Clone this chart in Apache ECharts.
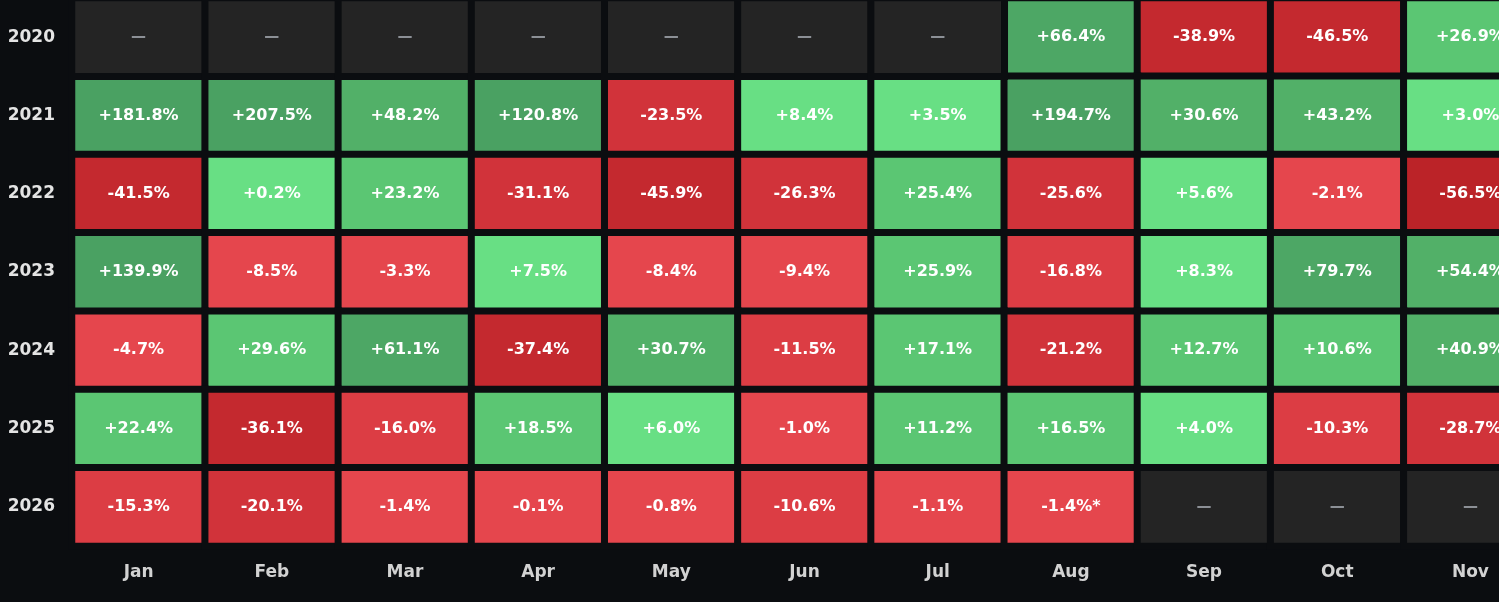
<!DOCTYPE html>
<html>
<head>
<meta charset="utf-8">
<script src="https://cdn.jsdelivr.net/npm/echarts@6/dist/echarts.min.js"></script>
<style>
  html, body { margin: 0; padding: 0; background: #0b0d10; overflow: hidden; }
  body { width: 1499px; height: 602px; position: relative; }
  /* the chart is wider than the window, its right end is cut off */
  #chart { position: absolute; left: 0; top: -2px; width: 1537px; height: 604px; }
</style>
</head>
<body>
<div id="chart"></div>
<script>
// monthly returns, % (null = no data)
const months = ['Jan', 'Feb', 'Mar', 'Apr', 'May', 'Jun', 'Jul', 'Aug', 'Sep', 'Oct', 'Nov'];
const years = ['2020', '2021', '2022', '2023', '2024', '2025', '2026'];

const r2020 = [null, null, null, null, null, null, null, 66.4, -38.9, -46.5, 26.9];
const r2021 = [181.8, 207.5, 48.2, 120.8, -23.5, 8.4, 3.5, 194.7, 30.6, 43.2, 3.0];
const r2022 = [-41.5, 0.2, 23.2, -31.1, -45.9, -26.3, 25.4, -25.6, 5.6, -2.1, -56.5];
const r2023 = [139.9, -8.5, -3.3, 7.5, -8.4, -9.4, 25.9, -16.8, 8.3, 79.7, 54.4];
const r2024 = [-4.7, 29.6, 61.1, -37.4, 30.7, -11.5, 17.1, -21.2, 12.7, 10.6, 40.9];
const r2025 = [22.4, -36.1, -16.0, 18.5, 6.0, -1.0, 11.2, 16.5, 4.0, -10.3, -28.7];
const r2026 = [-15.3, -20.1, -1.4, -0.1, -0.8, -10.6, -1.1, -1.4, null, null, null];

// current month is still running
const partialCell = { year: '2026', month: 'Aug' };

const rows = [r2020, r2021, r2022, r2023, r2024, r2025, r2026];

const values = [];
const empty = [];
rows.forEach(function (row, y) {
    row.forEach(function (v, x) {
        if (v === null) {
            empty.push([x, y, 0]);
        } else {
            values.push([x, y, v]);
        }
    });
});

function fmt (p) {
    const v = p.value[2];
    let s = (v >= 0 ? '+' : '') + v.toFixed(1) + '%';
    if (years[p.value[1]] === partialCell.year && months[p.value[0]] === partialCell.month) {
        s += '*';
    }
    return s;
}

const chart = echarts.init(document.getElementById('chart'));
chart.setOption({
    backgroundColor: '#0b0d10',
    animation: false,
    grid: {
        left: 72,
        right: 0,
        top: 0,
        bottom: 56
    },
    xAxis: {
        type: 'category',
        data: months,
        axisLine: { show: false },
        axisTick: { show: false },
        splitLine: { show: false },
        axisLabel: {
            color: '#d2d2d2',
            fontSize: 17,
            fontWeight: 'bold',
            fontFamily: 'DejaVu Sans',
            margin: 18
        }
    },
    yAxis: {
        type: 'category',
        data: years,
        inverse: true,
        axisLine: { show: false },
        axisTick: { show: false },
        splitLine: { show: false },
        axisLabel: {
            color: '#e4e4e4',
            fontSize: 17,
            fontWeight: 'bold',
            fontFamily: 'DejaVu Sans',
            margin: 17
        }
    },
    visualMap: {
        show: false,
        type: 'piecewise',
        seriesIndex: 0,
        dimension: 2,
        pieces: [
            { lt: -50, color: '#bb2328' },
            { gte: -50, lt: -35, color: '#c4292f' },
            { gte: -35, lt: -20, color: '#d1333a' },
            { gte: -20, lt: -10, color: '#dc3d44' },
            { gte: -10, lt: 0, color: '#e5464d' },
            { gte: 0, lt: 10, color: '#68df84' },
            { gte: 10, lt: 30, color: '#5bc673' },
            { gte: 30, lt: 60, color: '#52b068' },
            { gte: 60, lt: 100, color: '#4da765' },
            { gte: 100, color: '#4aa162' }
        ]
    },
    series: [{
        type: 'heatmap',
        data: values,
        itemStyle: {
            borderColor: '#0b0d10',
            borderWidth: 7
        },
        label: {
            show: true,
            formatter: fmt,
            color: '#ffffff',
            fontSize: 16,
            fontWeight: 'bold',
            fontFamily: 'DejaVu Sans'
        },
        emphasis: { disabled: true }
    }, {
        type: 'heatmap',
        data: empty,
        itemStyle: {
            color: '#242424',
            borderColor: '#0b0d10',
            borderWidth: 7
        },
        label: {
            show: true,
            formatter: '—',
            color: '#8c9096',
            fontSize: 15,
            fontWeight: 'bold',
            fontFamily: 'DejaVu Sans'
        },
        emphasis: { disabled: true }
    }]
});
window.onresize = function () {
    chart.resize();
};
</script>
</body>
</html>
